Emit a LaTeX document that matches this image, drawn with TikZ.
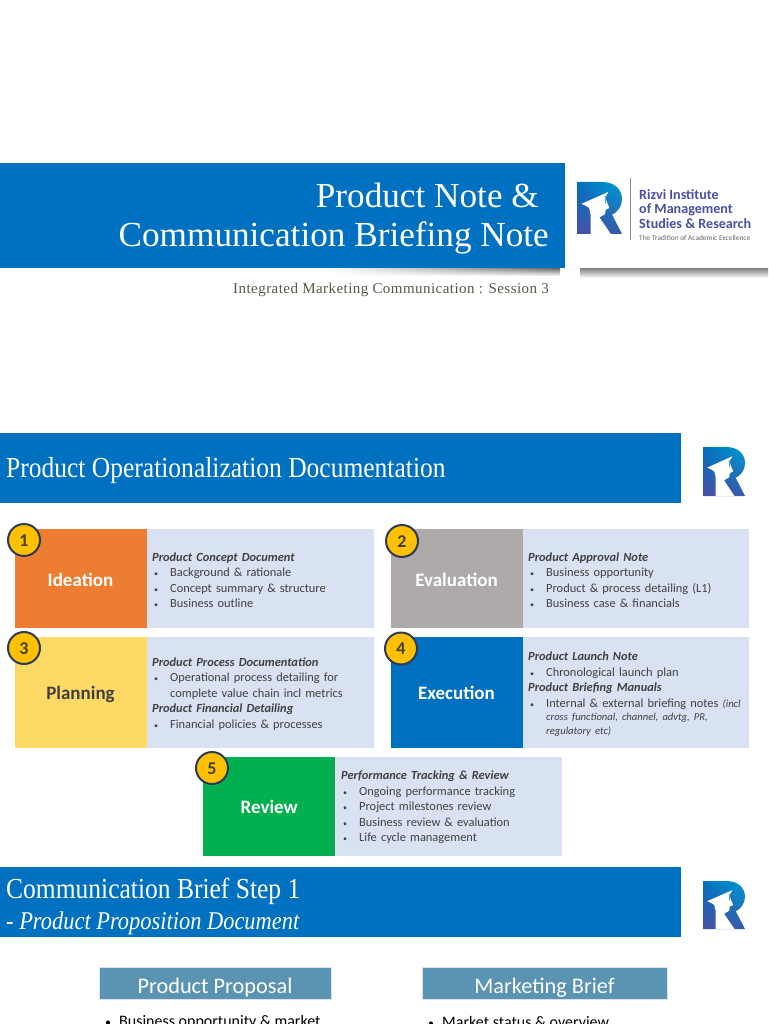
\documentclass[tikz,border=0pt]{standalone}
\usepackage{fontspec}
\setmainfont{Carlito}
\newfontfamily\titleserif{Liberation Serif}
\newfontfamily\narrowserif[FakeStretch=0.88]{Liberation Serif}
\newfontfamily\subserif[LetterSpace=3]{Liberation Serif}
\usetikzlibrary{fadings,shadings}

\definecolor{bandblue}{HTML}{0070C0}
\definecolor{paleblue}{HTML}{D9E2F3}
\definecolor{ideaorange}{HTML}{ED7D31}
\definecolor{evalgrey}{HTML}{AEAAAA}
\definecolor{planyellow}{HTML}{FFD966}
\definecolor{reviewgreen}{HTML}{00B050}
\definecolor{badgegold}{HTML}{FFC000}
\definecolor{badgeline}{HTML}{2B3A5A}
\definecolor{notegrey}{HTML}{404040}
\definecolor{logoviolet}{HTML}{4A4FA3}
\definecolor{tealbox}{HTML}{5B93B3}
\definecolor{sessiongreen}{HTML}{4F5B45}

\newcommand{\itm}[1]{\makebox[18pt][l]{\hspace{2pt}{\fontsize{8}{8}\selectfont\textbullet}}#1}
\newcommand{\lead}{\rule{0pt}{12pt}}
\newcommand{\smallnote}[1]{{\fontsize{10.6}{13}\selectfont\itshape #1}}
\newcommand{\rlogo}[4]{%
    \begin{scope}[shift={(#1,#2)},x=#3pt,y=-#4pt]
        \shade[shading=bilinear interpolation, lower left=logoviolet, lower right=logoviolet!70!bandblue, upper left=bandblue, upper right=bandblue!70!cyan]
            (0,0) -- (.55,0) .. controls (.85,0) and (1,.15) .. (1,.33)
            .. controls (1,.47) and (.9,.58) .. (.78,.63) -- (1,1) -- (.75,1) -- (.3,1) -- (0,1) -- cycle;
        \fill[white] (.1,.42) -- (.7,.19) -- (.63,.29) -- (.66,.38) -- (.72,.5) -- (.64,.53) -- (.62,.62)
            -- (.5,.68) -- (.75,1) -- (.3,1) -- (.3,.62) -- (.27,.5) -- (.2,.46) -- cycle;
        \draw[bandblue, line width=0.5pt] (.62,.27) -- (.64,.42);
    \end{scope}}

\tikzset{
    band/.style={fill=bandblue, draw=none, inner sep=0pt},
    stage/.style={draw=none, inner sep=0pt, minimum width=132pt, text height=19pt, text depth=4pt,
        font=\fontsize{19}{21}\selectfont\bfseries},
    note/.style={fill=paleblue, draw=none, anchor=west, inner xsep=5pt, inner ysep=0pt, align=left, text=notegrey,
        font=\fontsize{12.4}{15.5}\selectfont},
    badge/.style={circle, fill=badgegold, draw=badgeline, line width=2pt, minimum size=32pt, inner sep=0pt,
        text height=12pt, text depth=0pt, text=notegrey, font=\fontsize{18}{19}\selectfont\bfseries},
    tealhead/.style={fill=tealbox, draw=paleblue, line width=0.5pt, text=white, inner sep=0pt, minimum height=32pt,
        text height=23pt, text depth=4pt, font=\fontsize{22.3}{24}\selectfont},
    bandtext/.style={anchor=west, inner sep=0pt, text=white},
    bullettext/.style={anchor=west, inner sep=0pt, text=black, font=\fontsize{16}{18}\selectfont},
}

\begin{document}
\begin{tikzpicture}[x=1pt, y=-1pt]
    \useasboundingbox (0,0) rectangle (768,1024);

    % title slide
    \shade[top color=black!60, bottom color=white] (330,268) rectangle (560,276);
    \fill[white, path fading=east] (330,268) rectangle (560,277);
    \shade[top color=black!50, bottom color=white] (580,268) rectangle (768,278);
    \node[band, minimum width=565pt, minimum height=104.5pt] (titleband) at (282.5,215.75) {};
    \node[anchor=east, inner sep=0pt, align=right, text=white, font=\titleserif\fontsize{35.2}{39}\selectfont] (title)
        at (549,219) {Product Note \&\rule{10pt}{0pt}\\Communication Briefing Note};
    \node[anchor=east, inner sep=0pt, text=sessiongreen, font=\subserif\fontsize{15}{17}\selectfont] (session)
        at (549,290) {Integrated Marketing Communication : Session 3};

    % logo
    \rlogo{577}{182}{45}{52}
    \draw[black!45, line width=0.6pt] (630,178) -- (630,240);
    \node[anchor=west, inner sep=0pt, align=left, text=logoviolet, font=\fontsize{14.1}{14.2}\selectfont\bfseries] (instname)
        at (639,209) {Rizvi Institute\\of Management\\Studies \& Research};
    \node[anchor=west, inner sep=0pt, text=black!60, font=\fontsize{7.4}{8}\selectfont] (tagline)
        at (639,237.5) {The Tradition of Academic Excellence};

    % operationalization slide
    \node[band, minimum width=681pt, minimum height=70pt] (opsband) at (340.5,468) {};
    \node[bandtext, font=\narrowserif\fontsize{29}{31}\selectfont] (opstitle) at (6,470.5) {Product Operationalization Documentation};
    \rlogo{703}{447}{42}{49}

    \node[stage, fill=ideaorange, text=white, minimum height=99pt] (ideation) at (80.5,578.5) {Ideation};
    \node[note, minimum width=227pt, minimum height=99pt, text width=217pt] (ideationnote) at (147,578.5)
        {\lead\textbf{\textit{Product Concept Document}}\\\itm{Background \& rationale}\\\itm{Concept summary \& structure}\\\itm{Business outline}};
    \node[stage, fill=evalgrey, text=white, minimum height=99pt] (evaluation) at (456.5,578.5) {Evaluation};
    \node[note, minimum width=226pt, minimum height=99pt, text width=216pt] (evaluationnote) at (523,578.5)
        {\lead\textbf{\textit{Product Approval Note}}\\\itm{Business opportunity}\\\itm{Product \& process detailing (L1)}\\\itm{Business case \& financials}};
    \node[stage, fill=planyellow, text=notegrey, minimum height=111.5pt] (planning) at (80.5,692.25) {Planning};
    \node[note, minimum width=227pt, minimum height=111.5pt, text width=217pt] (planningnote) at (147,692.25)
        {\lead\textbf{\textit{Product Process Documentation}}\\\itm{Operational process detailing for}\\\hspace*{18pt}complete value chain incl metrics\\\textbf{\textit{Product Financial Detailing}}\\\itm{Financial policies \& processes}};
    \node[stage, fill=bandblue, text=white, minimum height=111.5pt] (execution) at (456.5,692.25) {Execution};
    \node[note, minimum width=226pt, minimum height=111.5pt, text width=216pt] (executionnote) at (523,692.25)
        {\lead\textbf{\textit{Product Launch Note}}\\\itm{Chronological launch plan}\\\textbf{\textit{Product Briefing Manuals}}\\\itm{Internal \& external briefing notes \smallnote{(incl}}\\[-2pt]\hspace*{18pt}\smallnote{cross functional, channel, advtg, PR,}\\[-2pt]\hspace*{18pt}\smallnote{regulatory etc)}};
    \node[stage, fill=reviewgreen, text=white, minimum height=99pt] (review) at (269.25,806) {Review};
    \node[note, minimum width=226pt, minimum height=99pt, text width=216pt] (reviewnote) at (336,806)
        {\lead\textbf{\textit{Performance Tracking \& Review}}\\\itm{Ongoing performance tracking}\\\itm{Project milestones review}\\\itm{Business review \& evaluation}\\\itm{Life cycle management}};

    \node[badge] (one) at (24,540) {1};
    \node[badge] (two) at (402,541) {2};
    \node[badge] (three) at (24,648) {3};
    \node[badge] (four) at (401,648.5) {4};
    \node[badge] (five) at (212,768) {5};

    % communication brief slide
    \node[band, minimum width=681pt, minimum height=70pt] (briefband) at (340.5,902) {};
    \node[bandtext, font=\narrowserif\fontsize{29}{31}\selectfont] (brieftitle) at (6,891.5) {Communication Brief Step 1};
    \node[bandtext, font=\narrowserif\fontsize{25.5}{27}\selectfont\itshape] (briefsub) at (6,923.5) {- Product Proposition Document};
    \rlogo{703}{881}{42}{48}

    \node[tealhead, minimum width=232pt] (proposal) at (215,983.5) {Product Proposal};
    \node[tealhead, minimum width=245pt] (marketing) at (544.5,983.5) {Marketing Brief};
    \node[bullettext] (proposalitem) at (105,1022)
        {\makebox[14pt][l]{\fontsize{12}{12}\selectfont\textbullet}Business opportunity \& market};
    \node[bullettext] (marketingitem) at (428,1022)
        {\makebox[14pt][l]{\fontsize{12}{12}\selectfont\textbullet}Market status \& overview};
\end{tikzpicture}
\end{document}
